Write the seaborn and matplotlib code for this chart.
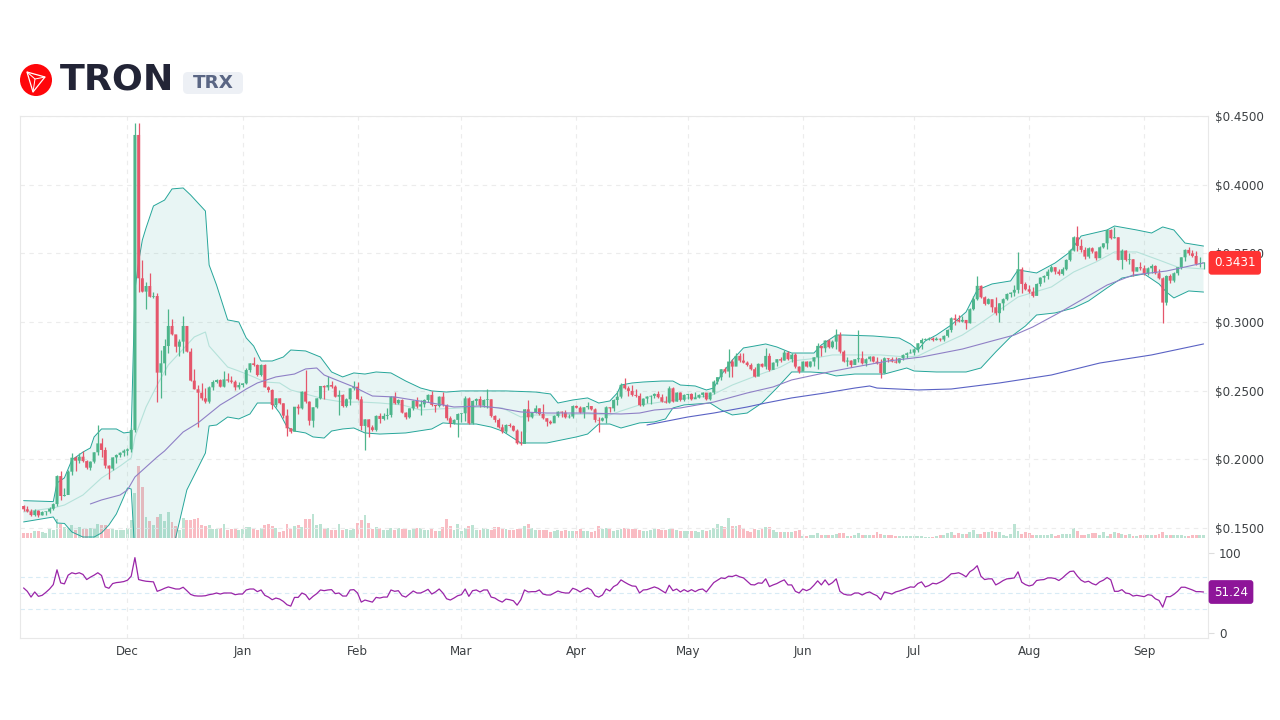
import numpy as np
import pandas as pd
import matplotlib
matplotlib.use('Agg')
import matplotlib.pyplot as plt
from matplotlib.patches import Circle, FancyBboxPatch, Polygon
import seaborn as sns

month_days = [28, 59, 90, 118, 149, 179, 210, 240, 271, 302]
month_labels = ['Dec', 'Jan', 'Feb', 'Mar', 'Apr', 'May', 'Jun', 'Jul', 'Aug', 'Sep']
price_ticks = [0.15, 0.20, 0.25, 0.30, 0.35, 0.40, 0.45]

closes = [
    .1636, .1621, .1594, .1626, .1592, .1616, .1619, .1640, .1674, .1878,
    .1733, .1740, .1910, .2012, .1990, .2019, .1987, .1939, .1983, .2051,
    .2116, .2068, .1954, .1932, .2014, .2031, .2048, .2063, .2072, .2213,
    .4362, .3318, .3221, .3262, .3184, .3189, .2631, .2699, .2825, .2971,
    .2910, .2820, .2857, .2971, .2784, .2573, .2510, .2485, .2444, .2420,
    .2524, .2563, .2577, .2529, .2582, .2573, .2565, .2524, .2541, .2553,
    .2650, .2699, .2687, .2614, .2687, .2524, .2505, .2395, .2444, .2408,
    .2318, .2226, .2201, .2383, .2371, .2493, .2420, .2281, .2379, .2444,
    .2534, .2524, .2541, .2529, .2456, .2469, .2388, .2437, .2517, .2529,
    .2437, .2243, .2291, .2233, .2214, .2316, .2294, .2316, .2323, .2456,
    .2408, .2432, .2340, .2306, .2371, .2427, .2384, .2401, .2432, .2469,
    .2396, .2388, .2456, .2396, .2299, .2262, .2287, .2330, .2335, .2444,
    .2262, .2425, .2439, .2391, .2432, .2437, .2316, .2287, .2233, .2202,
    .2250, .2243, .2209, .2117, .2112, .2364, .2306, .2340, .2371, .2330,
    .2299, .2274, .2262, .2316, .2347, .2340, .2306, .2311, .2388, .2376,
    .2340, .2379, .2388, .2364, .2287, .2282, .2299, .2379, .2371, .2432,
    .2456, .2542, .2517, .2498, .2469, .2462, .2394, .2442, .2457, .2462,
    .2476, .2452, .2420, .2413, .2517, .2420, .2486, .2433, .2469, .2476,
    .2437, .2450, .2469, .2486, .2437, .2486, .2566, .2598, .2656, .2639,
    .2712, .2675, .2753, .2719, .2704, .2687, .2656, .2602, .2695, .2675,
    .2753, .2651, .2704, .2729, .2719, .2777, .2729, .2762, .2675, .2639,
    .2712, .2675, .2712, .2743, .2826, .2809, .2865, .2816, .2857, .2906,
    .2784, .2712, .2719, .2687, .2729, .2736, .2699, .2729, .2748, .2712,
    .2699, .2627, .2736, .2729, .2712, .2704, .2736, .2760, .2772, .2777,
    .2801, .2845, .2869, .2875, .2880, .2868, .2878, .2872, .2899, .2942,
    .3027, .3015, .3003, .3015, .2991, .3093, .3166, .3263, .3180, .3132,
    .3166, .3107, .3064, .3136, .3166, .3204, .3214, .3234, .3384, .3277,
    .3238, .3221, .3190, .3277, .3323, .3335, .3367, .3399, .3367, .3350,
    .3384, .3452, .3520, .3617, .3554, .3525, .3476, .3537, .3513, .3464,
    .3544, .3573, .3670, .3610, .3617, .3452, .3520, .3452, .3457, .3367,
    .3399, .3391, .3355, .3391, .3408, .3355, .3318, .3141, .3335, .3301,
    .3355, .3399, .3471, .3525, .3500, .3481, .3423, .3428, .3431,
]
highs = [
    .1665, .1660, .1636, .1636, .1631, .1626, .1626, .1650, .1679, .1886,
    .1917, .1789, .1922, .2043, .2024, .2043, .2063, .1995, .1990, .2055,
    .2247, .2153, .2092, .1958, .2019, .2036, .2055, .2072, .2080, .2225,
    .4447, .4447, .3451, .3289, .3354, .3220, .3209, .2796, .2874, .3092,
    .3019, .2905, .2874, .3043, .2971, .2808, .2658, .2541, .2553, .2517,
    .2534, .2577, .2582, .2582, .2645, .2626, .2607, .2577, .2565, .2558,
    .2662, .2704, .2743, .2694, .2692, .2694, .2534, .2510, .2444, .2444,
    .2408, .2364, .2226, .2383, .2403, .2500, .2650, .2427, .2383, .2444,
    .2534, .2541, .2609, .2573, .2541, .2505, .2476, .2444, .2522, .2573,
    .2566, .2461, .2296, .2291, .2248, .2320, .2340, .2340, .2371, .2461,
    .2488, .2437, .2437, .2347, .2376, .2432, .2456, .2432, .2437, .2476,
    .2500, .2393, .2461, .2493, .2403, .2316, .2291, .2335, .2340, .2461,
    .2456, .2430, .2444, .2461, .2437, .2510, .2442, .2325, .2299, .2257,
    .2257, .2262, .2248, .2219, .2209, .2369, .2432, .2345, .2396, .2376,
    .2403, .2304, .2287, .2320, .2352, .2352, .2359, .2330, .2393, .2393,
    .2391, .2384, .2415, .2391, .2376, .2311, .2306, .2388, .2384, .2437,
    .2500, .2554, .2590, .2537, .2542, .2510, .2481, .2450, .2462, .2467,
    .2486, .2496, .2476, .2462, .2534, .2530, .2491, .2493, .2476, .2479,
    .2481, .2493, .2476, .2491, .2481, .2491, .2578, .2602, .2661, .2675,
    .2801, .2729, .2772, .2777, .2777, .2719, .2704, .2675, .2699, .2704,
    .2809, .2772, .2709, .2733, .2748, .2797, .2792, .2777, .2772, .2680,
    .2717, .2717, .2717, .2748, .2845, .2821, .2869, .2874, .2869, .2947,
    .2928, .2797, .2743, .2724, .2733, .2942, .2792, .2736, .2753, .2753,
    .2748, .2729, .2743, .2741, .2748, .2743, .2741, .2765, .2780, .2801,
    .2809, .2850, .2881, .2885, .2892, .2888, .2888, .2880, .2906, .2947,
    .3034, .3059, .3052, .3044, .3010, .3100, .3190, .3338, .3270, .3190,
    .3173, .3161, .3185, .3141, .3173, .3209, .3221, .3270, .3508, .3399,
    .3294, .3270, .3253, .3282, .3331, .3343, .3384, .3415, .3403, .3384,
    .3403, .3457, .3530, .3627, .3699, .3602, .3544, .3544, .3544, .3520,
    .3554, .3578, .3680, .3675, .3690, .3622, .3530, .3525, .3500, .3457,
    .3403, .3440, .3415, .3399, .3423, .3415, .3384, .3326, .3343, .3350,
    .3367, .3403, .3476, .3530, .3544, .3525, .3520, .3471, .3440,
]
lows = [
    .1626, .1616, .1589, .1589, .1582, .1594, .1594, .1606, .1631, .1660,
    .1704, .1733, .1752, .1886, .1917, .1970, .1983, .1929, .1922, .1970,
    .2031, .2019, .1934, .1856, .1922, .1975, .2014, .2024, .2031, .2055,
    .2199, .3218, .3220, .3092, .3184, .3172, .2420, .2444, .2614, .2772,
    .2905, .2784, .2752, .2772, .2784, .2573, .2510, .2238, .2432, .2412,
    .2412, .2505, .2553, .2524, .2529, .2565, .2558, .2505, .2510, .2524,
    .2548, .2638, .2679, .2607, .2607, .2524, .2493, .2364, .2383, .2403,
    .2298, .2170, .2194, .2213, .2330, .2364, .2412, .2250, .2238, .2371,
    .2437, .2437, .2505, .2522, .2452, .2323, .2384, .2384, .2396, .2505,
    .2432, .2214, .2068, .2160, .2209, .2209, .2267, .2287, .2291, .2311,
    .2403, .2403, .2335, .2296, .2299, .2359, .2371, .2323, .2379, .2420,
    .2388, .2342, .2379, .2391, .2287, .2238, .2257, .2165, .2274, .2279,
    .2257, .2257, .2396, .2384, .2384, .2371, .2311, .2274, .2226, .2194,
    .2194, .2233, .2204, .2112, .2102, .2199, .2282, .2299, .2335, .2325,
    .2296, .2245, .2257, .2269, .2306, .2306, .2301, .2301, .2301, .2371,
    .2335, .2299, .2367, .2359, .2274, .2202, .2277, .2262, .2347, .2354,
    .2396, .2447, .2510, .2462, .2462, .2457, .2389, .2389, .2408, .2403,
    .2447, .2447, .2416, .2408, .2408, .2416, .2423, .2425, .2425, .2437,
    .2433, .2445, .2445, .2452, .2433, .2433, .2476, .2549, .2578, .2632,
    .2602, .2602, .2695, .2712, .2699, .2683, .2651, .2598, .2656, .2670,
    .2658, .2646, .2683, .2683, .2712, .2724, .2724, .2712, .2668, .2632,
    .2651, .2670, .2670, .2683, .2656, .2753, .2780, .2811, .2809, .2804,
    .2777, .2707, .2683, .2675, .2695, .2707, .2695, .2683, .2719, .2707,
    .2695, .2590, .2627, .2707, .2707, .2699, .2699, .2724, .2738, .2772,
    .2763, .2782, .2801, .2868, .2870, .2860, .2866, .2865, .2865, .2889,
    .2930, .2979, .2998, .2998, .2952, .2991, .3088, .3161, .3175, .3124,
    .3129, .3076, .3052, .3003, .3088, .3161, .3180, .3190, .3209, .3209,
    .3234, .3209, .3185, .3197, .3263, .3294, .3311, .3362, .3350, .3345,
    .3345, .3379, .3447, .3515, .3520, .3513, .3457, .3464, .3505, .3452,
    .3471, .3537, .3530, .3602, .3610, .3452, .3384, .3447, .3423, .3335,
    .3374, .3379, .3343, .3343, .3360, .3350, .3311, .2991, .3127, .3287,
    .3294, .3343, .3384, .3447, .3488, .3471, .3415, .3398, .3384,
]
volumes = [
    5, 5, 5, 7, 7, 6, 5, 9, 8, 19, 14, 11, 10, 13, 8, 11, 9, 9, 10, 10,
    14, 13, 13, 9, 9, 8, 8, 8, 10, 18, 45, 72, 51, 21, 17, 13, 21, 24, 17, 26,
    16, 12, 8, 20, 18, 18, 19, 20, 13, 12, 13, 9, 9, 10, 14, 8, 9, 10, 8, 9,
    11, 11, 9, 8, 10, 13, 14, 12, 10, 6, 7, 14, 9, 12, 13, 11, 19, 19, 24, 13,
    14, 10, 10, 8, 8, 14, 8, 9, 8, 9, 15, 18, 23, 15, 9, 11, 10, 8, 8, 10,
    8, 10, 9, 9, 8, 9, 10, 10, 8, 8, 9, 7, 7, 11, 19, 12, 8, 14, 7, 10,
    12, 13, 8, 8, 10, 9, 8, 11, 11, 10, 9, 8, 8, 9, 9, 12, 14, 10, 8, 8,
    8, 8, 6, 7, 8, 7, 8, 7, 7, 7, 9, 7, 7, 6, 7, 12, 9, 10, 9, 7,
    8, 9, 10, 9, 9, 10, 8, 7, 7, 8, 9, 9, 8, 8, 9, 9, 8, 7, 7, 7,
    7, 7, 6, 8, 7, 8, 10, 14, 12, 11, 20, 12, 12, 13, 10, 7, 6, 9, 8, 9,
    11, 11, 8, 6, 6, 6, 6, 6, 7, 8, 2, 2, 3, 3, 5, 3, 3, 3, 3, 4,
    5, 5, 2, 2, 3, 5, 3, 3, 3, 3, 6, 4, 3, 3, 3, 2, 2, 2, 2, 2,
    2, 2, 2, 1, 1, 1, 2, 3, 3, 5, 6, 3, 5, 4, 4, 6, 8, 4, 4, 6,
    6, 7, 6, 6, 3, 2, 4, 14, 7, 4, 6, 5, 3, 3, 3, 3, 3, 4, 2, 3,
    4, 4, 4, 10, 7, 3, 3, 4, 5, 5, 3, 6, 2, 4, 6, 5, 4, 3, 4, 2,
    2, 3, 3, 3, 3, 3, 4, 6, 3, 3, 3, 3, 3, 2, 2, 3, 3, 3, 3,
]
rsi_values = [
    56.3, 52.1, 44.9, 51.3, 45.8, 47.1, 50.8, 55, 60.5, 79,
    62.6, 61.4, 72.3, 75.3, 74, 75.3, 73.2, 66.8, 69.8, 72.3,
    75.3, 71.9, 57.6, 55.9, 61.8, 63, 63.5, 64.3, 66, 71,
    94.2, 66.8, 65.6, 64.7, 64.3, 63.9, 52.1, 53.8, 55.9, 57.6,
    56.3, 55, 55, 57.2, 52.9, 48.3, 46.6, 46.2, 46.2, 46.6,
    47.9, 48.7, 50, 48.7, 50, 50, 50, 47.9, 48.7, 48.7,
    53.8, 55, 55, 51.7, 53.8, 47.1, 44.9, 41.6, 43.7, 42.4,
    39.5, 35.3, 33.6, 44.5, 44.5, 50, 47.9, 41.6, 45.8, 49.2,
    53.8, 52.9, 53.8, 54.2, 49.2, 50, 46.2, 46.2, 53.8, 54.2,
    50, 38.6, 41.2, 39.9, 38.6, 44.5, 43.7, 44.9, 44.9, 53.8,
    52.1, 52.9, 46.6, 44.9, 48.7, 52.5, 50, 50, 52.1, 54.6,
    48.7, 51.3, 55, 50, 42.8, 41.2, 43.7, 46.6, 47.9, 55,
    45.8, 52.9, 53.8, 51.3, 53.8, 53.8, 44.9, 43.7, 40.7, 38.6,
    42.4, 41.6, 40.3, 34.8, 41.6, 53.8, 51.3, 51.7, 51.7, 53.8,
    48.7, 47.5, 47.5, 50, 52.5, 50.8, 50, 50, 55.9, 54.2,
    51.3, 54.2, 56.3, 53.8, 46.6, 44.9, 47.5, 55, 52.5, 58,
    60.5, 66.4, 63.5, 60.9, 58.8, 58.4, 50, 53.8, 54.2, 55.9,
    57.6, 55.9, 52.9, 50, 59.7, 52.9, 55, 51.3, 54.2, 51.7,
    54.2, 51.7, 54.2, 55, 51.3, 57.2, 63, 66, 68.9, 68.1,
    71, 70.6, 72.3, 70.2, 68.9, 64.7, 60.5, 60.1, 62.6, 62.2,
    67.7, 58, 60.1, 61.8, 64.3, 66.4, 60.1, 60.1, 52.1, 50,
    55, 52.9, 55, 59.7, 65.2, 60.1, 66.4, 60.1, 63, 67.7,
    52.1, 48.7, 47.5, 47.5, 50, 50, 47.5, 50, 51.3, 48.7,
    46.6, 41.6, 51.3, 50, 48.7, 51.3, 52.5, 54.2, 55.9, 57.6,
    57.2, 61.8, 63.9, 57.6, 59.3, 62.2, 61.4, 63.5, 66, 69.8,
    74, 74.4, 75.3, 73.2, 70.2, 76.5, 79.5, 84.1, 71, 66.8,
    67.7, 67.7, 60.1, 62.6, 65.6, 67.7, 68.1, 68.9, 76.5, 63.5,
    60.5, 58.8, 60.1, 65.6, 66.4, 66.8, 68.9, 68.9, 68.1, 65.6,
    68.9, 73.2, 76.9, 77.4, 71, 66, 63.5, 64.7, 61.8, 60.1,
    63.9, 66, 69.4, 66.4, 52.1, 52.1, 54.2, 50, 49.2, 46.2,
    47.1, 46.2, 45.4, 47.9, 47.1, 42.8, 40.7, 32.3, 45.4, 45.4,
    48.3, 52.1, 57.2, 57.2, 55.5, 53.8, 51.7, 51.7, 51.24,
]

upper_days = [0, 8, 9, 11, 13, 16, 18, 19, 21, 25, 27, 29, 30, 31, 32, 33, 35, 38, 40, 43, 45, 49, 50, 52, 55, 58,
              60, 62, 64, 67, 70, 72, 76, 80, 83, 86, 89, 92, 95, 99, 103, 107, 110, 114, 118, 125, 130, 138, 142,
              144, 148, 152, 155, 158, 160, 161, 164, 167, 172, 175, 177, 181, 184, 186, 188, 191, 194, 197, 200,
              203, 207, 213, 215, 219, 221, 229, 236, 239, 241, 243, 246, 250, 254, 257, 261, 266, 268, 273, 278,
              282, 285, 292, 294, 300, 304, 307, 310, 313, 318]
upper_band = [.1699, .1692, .1828, .1865, .1995, .2053, .2083, .2163, .2221, .2221, .2192, .2199, .3233, .3437, .3597,
              .3685, .3845, .3888, .3969, .3976, .3925, .3808, .3415, .3269, .3015, .3000,
              .2884, .2825, .2716, .2716, .2745, .2796, .2789, .2745, .2636, .2600, .2629, .2621, .2636, .2629,
              .2570, .2519, .2498, .2490, .2498, .2498, .2498, .2490, .2476,
              .2410, .2432, .2447, .2410, .2425, .2483, .2541, .2556, .2563, .2570, .2570, .2541, .2534, .2505,
              .2519, .2614, .2723, .2811, .2825, .2840, .2818, .2774, .2774, .2833, .2905, .2905, .2898, .2883,
              .2840, .2796, .2862, .2905, .2978, .3073, .3233, .3277, .3299, .3379, .3357, .3430,
              .3510, .3626, .3670, .3699, .3670, .3648, .3692, .3670, .3575, .3553]
lower_days = [0, 8, 9, 11, 13, 16, 19, 21, 23, 25, 27, 28, 29, 30, 33, 36, 39, 41, 44, 49, 50, 52, 55, 58, 61, 63, 67,
              69, 71, 73, 76, 78, 81, 83, 86, 89, 92, 96, 103, 110, 113, 117, 122, 126, 129, 134, 141, 149, 152,
              155, 158, 161, 166, 170, 173, 175, 178, 185, 188, 191, 195, 199, 203, 207, 212, 216, 219, 224, 232,
              238, 240, 246, 254, 258, 262, 266, 270, 273, 278, 283, 287, 292, 296, 302, 306, 308, 310, 314, 318]
lower_band = [.1544, .1580, .1536, .1533, .1471, .1434, .1434, .1464, .1522, .1602, .1726, .1791, .1784, .1300, .1000,
              .1050, .1250, .1430, .1777, .2046, .2243, .2250, .2308, .2294, .2330, .2410, .2410,
              .2337, .2235, .2206, .2192, .2163, .2155, .2206, .2221, .2228, .2192, .2184, .2192, .2221, .2265,
              .2257, .2257, .2235, .2206, .2119, .2119, .2163, .2184,
              .2257, .2257, .2228, .2265, .2272, .2294, .2374, .2396, .2410, .2359, .2323, .2337, .2410, .2519,
              .2636, .2636, .2629, .2607, .2621, .2621,
              .2665, .2643, .2636, .2636, .2665, .2782, .2891, .2971, .3051, .3066, .3102, .3153, .3248, .3320,
              .3350, .3277, .3218, .3175, .3226, .3218]
mid_days = [0, 8, 11, 16, 21, 26, 29, 30, 33, 36, 39, 42, 46, 49, 50, 55, 58, 62, 65, 69, 72, 76, 81, 86, 91, 96, 102,
            107, 112, 118, 125, 129, 134, 138, 145, 152, 158, 161, 166, 170, 179, 185, 191, 198, 204, 207, 212,
            218, 231, 238, 241, 246, 253, 258, 263, 268, 277, 283, 289, 294, 300, 306, 311, 318]
mid_band = [.1617, .1646, .1667, .1740, .1864, .1951, .2010, .2163, .2381, .2541, .2687, .2774, .2891, .2927, .2825,
            .2672, .2643, .2600, .2563, .2556, .2505, .2476, .2439, .2417, .2417, .2410, .2396,
            .2359, .2367, .2374, .2381, .2374, .2308, .2323, .2323, .2330, .2323, .2352, .2396, .2410, .2447,
            .2461, .2541, .2614, .2672, .2716, .2731, .2760, .2760, .2745, .2752, .2818, .2905, .2993, .3087,
            .3182, .3255, .3364, .3437, .3510, .3510, .3451, .3400, .3386]
ma_days = [18, 21, 26, 28, 30, 33, 36, 38, 43, 47, 53, 57, 60, 63, 68, 73, 76, 79, 81, 83, 89, 94, 100, 105, 110, 116,
           123, 128, 134, 141, 152, 161, 166, 170, 177, 186, 195, 202, 207, 217, 224, 233, 242, 253, 262, 267,
           272, 279, 286, 292, 299, 308, 318]
ma_short = [.1675, .1704, .1740, .1777, .1871, .1944, .2017, .2061, .2199, .2265, .2396, .2461, .2512, .2556, .2600,
            .2621, .2658, .2665, .2614, .2592, .2527, .2461, .2454, .2432, .2410, .2381,
            .2388, .2374, .2345, .2337, .2337, .2330, .2337, .2359, .2374, .2417, .2483, .2527, .2578, .2636,
            .2672, .2716, .2745, .2803, .2869, .2905, .2964, .3066, .3175, .3269, .3342, .3371, .3430]
long_days = [168, 179, 186, 195, 200, 207, 216, 224, 228, 230, 241, 250, 263, 277, 290, 304, 318]
ma_long = [.2250, .2308, .2337, .2381, .2410, .2447, .2483, .2519, .2534, .2519, .2505, .2512, .2556, .2614, .2701,
           .2760, .2840]

UP = '#4db58b'
DOWN = '#e5566b'
GRID = '#ececec'
BAND = '#26a69a'

sns.set_theme(style='white', rc={'font.family': 'DejaVu Sans', 'axes.edgecolor': '#e8e8e8', 'axes.linewidth': 0.8})

days = np.arange(len(closes))
closes_arr = np.array(closes)
opens = np.r_[.1660, closes_arr[:-1]]
is_up = closes_arr >= opens
colors = np.where(is_up, UP, DOWN)
vol_colors = np.where(is_up, '#bce3d3', '#f9bcc3')

fig = plt.figure(figsize=(12.8, 7.2), dpi=100, facecolor='white')
ax = fig.add_axes([20 / 1280, (720 - 538) / 720, 1188 / 1280, 422 / 720])
ax_rsi = fig.add_axes([20 / 1280, (720 - 638) / 720, 1188 / 1280, 100 / 720], sharex=ax)
ax_vol = ax.twinx()

# volume sits behind the price panel
ax_vol.set_zorder(1)
ax.set_zorder(2)
ax.patch.set_visible(False)
ax_vol.bar(days, volumes, width=0.78, color=vol_colors, linewidth=0)
ax_vol.set_ylim(0, 422)
ax_vol.axis('off')

ax.fill(np.r_[upper_days, lower_days[::-1]], np.r_[upper_band, lower_band[::-1]], color=BAND, alpha=0.1, lw=0, zorder=1)
sns.lineplot(x=upper_days, y=upper_band, ax=ax, color=BAND, lw=0.7, estimator=None, sort=False, zorder=2)
sns.lineplot(x=lower_days, y=lower_band, ax=ax, color=BAND, lw=0.7, estimator=None, sort=False, zorder=2)
sns.lineplot(x=mid_days, y=mid_band, ax=ax, color='#b5e2da', lw=0.8, estimator=None, sort=False, zorder=2)
sns.lineplot(x=long_days, y=ma_long, ax=ax, color='#5a62c4', lw=0.8, estimator=None, sort=False, zorder=2)

ax.vlines(days, lows, highs, colors=colors, lw=0.9, zorder=3)
bodies = ax.bar(days, np.maximum(np.abs(closes_arr - opens), 0.0005), bottom=np.minimum(opens, closes_arr),
                width=0.8, color=colors, linewidth=0, zorder=4)
for body in bodies:
    body.set_snap(False)
sns.lineplot(x=ma_days, y=ma_short, ax=ax, color='#8f80c6', lw=0.8, estimator=None, sort=False, zorder=5)

ax.set_xlim(-0.97, 319.2)
ax.set_ylim(0.1427, 0.45)
ax.set_xlabel('')
ax.set_ylabel('')
ax.set_yticks(price_ticks)
ax.set_yticklabels([f'${p:.4f}' for p in price_ticks])
ax.yaxis.tick_right()
ax.tick_params(axis='y', length=0, pad=5, labelsize=8.6, labelcolor='#3c4043')
ax.tick_params(axis='x', bottom=False, labelbottom=False)
ax.grid(True, color=GRID, ls=(0, (4, 4)), lw=0.8)
ax.set_axisbelow(True)
ax.spines['bottom'].set_visible(False)

sns.lineplot(x=days, y=rsi_values, ax=ax_rsi, color='#9a25a8', lw=0.9, estimator=None, sort=False, zorder=3)
ax_rsi.set_ylim(-6.25, 118.75)
ax_rsi.set_yticks([0, 100])
ax_rsi.yaxis.tick_right()
ax_rsi.tick_params(axis='y', length=4, width=0.8, color='#dddddd', pad=4, labelsize=8.6, labelcolor='#3c4043')
ax_rsi.set_xticks(month_days)
ax_rsi.set_xticklabels(month_labels)
ax_rsi.tick_params(axis='x', length=0, pad=5, labelsize=8.6, labelcolor='#3c4043')
ax_rsi.grid(True, axis='x', color=GRID, ls=(0, (4, 4)), lw=0.8)
for level in [30, 50, 70]:
    ax_rsi.axhline(level, color='#d8ebf5', ls=(0, (4, 3)), lw=0.8, zorder=1)
ax_rsi.set_axisbelow(True)
ax_rsi.spines['top'].set_visible(False)

# value tags on the right edge
ax.annotate('0.3431', xy=(1.0, closes[-1]), xycoords=('axes fraction', 'data'), xytext=(4.3, 0),
            textcoords='offset points', color='white', fontsize=8.6, va='center', zorder=20, annotation_clip=False,
            bbox=dict(boxstyle='round,pad=0.45,rounding_size=0.25', fc='#ff3333', ec='none'))
ax_rsi.annotate('51.24', xy=(1.0, rsi_values[-1]), xycoords=('axes fraction', 'data'), xytext=(4.3, 0),
                textcoords='offset points', color='white', fontsize=8.6, va='center', zorder=20, annotation_clip=False,
                bbox=dict(boxstyle='round,pad=0.45,rounding_size=0.25', fc='#8e1599', ec='none'))

# header drawn in pixel coordinates
ov = fig.add_axes([0, 0, 1, 1], zorder=10)
ov.set_xlim(0, 1280)
ov.set_ylim(720, 0)
ov.axis('off')
ov.add_patch(Circle((36, 80), 16, fc='#ff060a', ec='none'))
ov.add_patch(Polygon([(27, 72), (45, 77), (33, 92)], closed=True, fc='none', ec='white', lw=0.9))
ov.plot([27, 35, 45], [72, 79, 77], color='white', lw=0.7)
ov.plot([35, 33], [79, 92], color='white', lw=0.7)
ov.text(60, 90, 'TRON', fontsize=26.2, fontweight='bold', color='#222436', va='baseline', ha='left')
ov.add_patch(FancyBboxPatch((187, 76), 52, 14, boxstyle='round,pad=4,rounding_size=5', fc='#edf0f5', ec='none'))
ov.text(213, 83, 'TRX', fontsize=13.2, fontweight='bold', color='#5a6684', va='center', ha='center')

fig.savefig('out.png', dpi=100)
